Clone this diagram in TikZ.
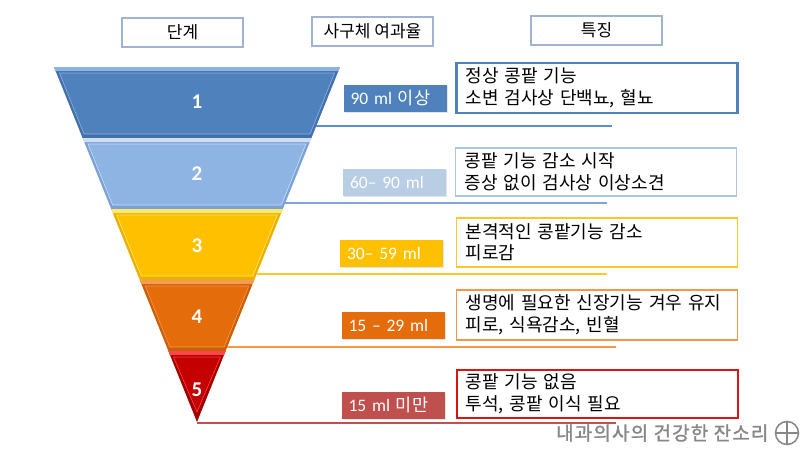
\documentclass[tikz,border=0pt]{standalone}
\usepackage{fontspec}
\setmainfont{Noto Sans CJK KR}
\newfontfamily\kr{Noto Sans CJK KR}
\newfontfamily\carl{Carlito}
\newfontfamily\footfont{Noto Sans CJK KR}[FakeBold=1.5, LetterSpace=6]
\usetikzlibrary{shadows}
\definecolor{b1}{RGB}{79,129,189}
\definecolor{b1l}{RGB}{141,179,226}
\definecolor{b1d}{RGB}{66,112,170}
\definecolor{b2}{RGB}{142,180,227}
\definecolor{b2l}{RGB}{205,222,243}
\definecolor{b2d}{RGB}{122,162,215}
\definecolor{b3}{RGB}{255,192,0}
\definecolor{b3l}{RGB}{255,232,110}
\definecolor{b3d}{RGB}{236,176,0}
\definecolor{b4}{RGB}{228,108,10}
\definecolor{b4l}{RGB}{247,155,80}
\definecolor{b4d}{RGB}{205,94,8}
\definecolor{b5}{RGB}{196,0,0}
\definecolor{b5l}{RGB}{255,70,70}
\definecolor{b5d}{RGB}{165,0,0}
\definecolor{v1}{RGB}{79,129,189}
\definecolor{v2}{RGB}{185,205,229}
\definecolor{v3}{RGB}{255,192,0}
\definecolor{v4}{RGB}{228,108,10}
\definecolor{v5}{RGB}{192,80,77}
\definecolor{l1}{RGB}{91,140,205}
\definecolor{l2}{RGB}{130,165,215}
\definecolor{l3}{RGB}{255,200,40}
\definecolor{l4}{RGB}{247,150,70}
\definecolor{l5}{RGB}{192,80,77}
\definecolor{d1}{RGB}{79,129,189}
\definecolor{d2}{RGB}{172,197,232}
\definecolor{d3}{RGB}{255,200,40}
\definecolor{d4}{RGB}{247,150,70}
\definecolor{d5}{RGB}{222,20,20}
\definecolor{hdr}{RGB}{160,180,210}
\definecolor{foot}{RGB}{135,135,135}
\newcommand{\fband}[5]{%
  \fill[#5] ({197-(422-#1)*0.40282},#1) -- ({197+(422-#1)*0.40282},#1) -- ({197+(422-#2)*0.40282},#2) -- ({197-(422-#2)*0.40282},#2) -- cycle;
  \fill[#4] ({197-(422-#1)*0.40282},#1) -- ({197+(422-#1)*0.40282},#1) -- ({197+(422-#1-4)*0.40282},#1+4) -- ({197-(422-#1-4)*0.40282},#1+4) -- cycle;
  \filldraw[fill=#3, draw=#4, line width=0.6pt] ({197-(422-#1-6)*0.40282+3},#1+6) -- ({197+(422-#1-6)*0.40282-3},#1+6) -- ({197+(422-#2+4)*0.40282-3},#2-4) -- ({197-(422-#2+4)*0.40282+3},#2-4) -- cycle;
}
\tikzset{
  hbox/.style={draw=hdr, line width=1.2pt, fill=white, minimum height=29pt, inner sep=0pt, font=\fontsize{17}{17}\selectfont, drop shadow={shadow xshift=1pt, shadow yshift=-1pt, opacity=0.15}},
  vbox/.style={fill=#1, text=white, minimum height=27pt, text width=89pt, inner xsep=7pt, inner ysep=0pt, align=left, font=\carl\fontsize{17.5}{17.5}\selectfont, drop shadow={shadow xshift=1pt, shadow yshift=-1pt, opacity=0.2}},
  dbox/.style={draw=#1, line width=1.6pt, fill=white, minimum height=49pt, text width=263pt, inner xsep=9pt, inner ysep=0pt, align=left, font=\fontsize{18}{21.5}\selectfont},
  num/.style={text=white, font=\carl\bfseries\fontsize{21}{21}\selectfont},
  conn/.style={draw=#1, line width=1.4pt}
}
\begin{document}
\begin{tikzpicture}[x=1pt,y=-1pt]
\useasboundingbox (0,0) rectangle (800,450);
\fill[white] (0,0) rectangle (800,450);
% headers
\node[hbox, minimum width=121pt] (h1) at (182.5,32.5) {단계};
\node[hbox, minimum width=121pt] (h2) at (372.5,31.5) {사구체 여과율};
\node[hbox, minimum width=131pt] (h3) at (596.5,30.5) {특징};
% funnel
\fband{67}{138}{b1}{b1l}{b1d}
\fband{138}{209}{b2}{b2l}{b2d}
\fband{209}{280}{b3}{b3l}{b3d}
\fband{280}{351}{b4}{b4l}{b4d}
\fill[b5d] (168.4,351) -- (225.6,351) -- (197,422) -- cycle;
\fill[b5l] (168.4,351) -- (225.6,351) -- (224,355) -- (170,355) -- cycle;
\filldraw[fill=b5, draw=b5l, line width=0.6pt] (173.5,357) -- (220.5,357) -- (197,412) -- cycle;
\node[num] (n1) at (197,102) {1};
\node[num] (n2) at (197,174) {2};
\node[num] (n3) at (197,246) {3};
\node[num] (n4) at (197,317) {4};
\node[num] (n5) at (197,390) {5};
% connector lines
\coordinate (a1) at (316.2,126); \coordinate (e1) at (612,126);
\coordinate (a2) at (285.2,203); \coordinate (e2) at (607,203);
\coordinate (a3) at (256.6,274); \coordinate (e3) at (607,274);
\coordinate (a4) at (227.2,347); \coordinate (e4) at (616,347);
\coordinate (a5) at (197,423); \coordinate (e5) at (616,423);
\draw[conn=l1] (a1) -- (e1);
\draw[conn=l2] (a2) -- (e2);
\draw[conn=l3] (a3) -- (e3);
\draw[conn=l4] (a4) -- (e4);
\draw[conn=l5] (a5) -- (e5);
% value boxes
\node[vbox=v1] (v1) at (395,98) {90 ml {\kr 이상}};
\node[vbox=v2] (v2) at (394.5,182) {60– 90 ml};
\node[vbox=v3] (v3) at (391.5,253.5) {30– 59 ml};
\node[vbox=v4] (v4) at (393,325) {15 – 29 ml};
\node[vbox=v5] (v5) at (393,405) {15 ml {\kr 미만}};
% description boxes
\node[dbox=d1, line width=2.2pt, minimum height=50pt] (d1) at (597,88) {정상 콩팥 기능\\소변 검사상 단백뇨, 혈뇨};
\node[dbox=d2, minimum height=48pt] (d2) at (596,172) {콩팥 기능 감소 시작\\증상 없이 검사상 이상소견};
\node[dbox=d3] (d3) at (597,242.5) {본격적인 콩팥기능 감소\\피로감};
\node[dbox=d4, minimum height=50pt] (d4) at (597,315) {생명에 필요한 신장기능 겨우 유지\\피로, 식욕감소, 빈혈};
\node[dbox=d5, line width=2pt, minimum height=48pt] (d5) at (597,394) {콩팥 기능 없음\\투석, 콩팥 이식 필요};
% footer
\node[anchor=west, text=foot, inner sep=0pt, font=\footfont\fontsize{19}{19}\selectfont] (ft) at (556,433) {내과의사의 건강한 잔소리};
\node[circle, draw=foot, line width=1.5pt, minimum size=23pt, inner sep=0pt] (ic) at (787,433) {};
\draw[foot, line width=1.3pt] (ic.west) -- (ic.east);
\draw[foot, line width=1.3pt] (ic.north) -- (ic.south);
\end{tikzpicture}
\end{document}
